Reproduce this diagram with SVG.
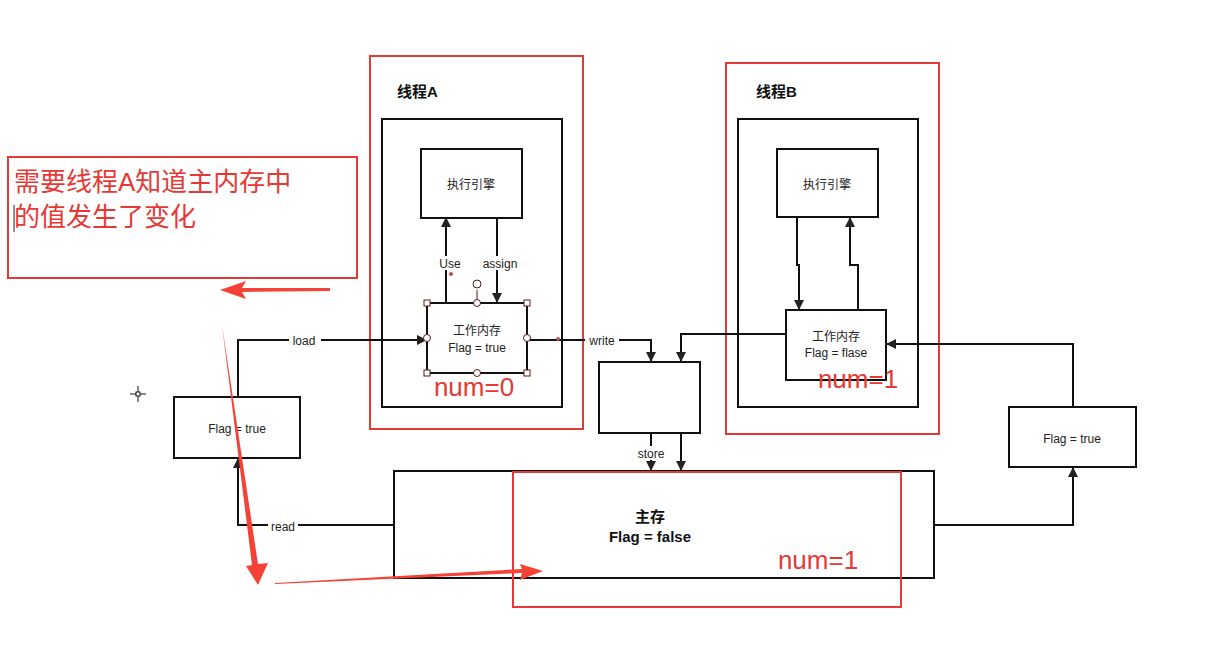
<svg xmlns="http://www.w3.org/2000/svg" width="1205" height="651" viewBox="0 0 1205 651">
<defs>
<marker id="a" markerWidth="10" markerHeight="10" refX="9" refY="5" orient="auto" markerUnits="userSpaceOnUse"><path d="M0,0 L10,5 L0,10 Z" fill="#222"/></marker>
<style>
.b{fill:#fff;stroke:#111;stroke-width:2}
.r{fill:none;stroke:#e53935;stroke-width:2}
.l{fill:none;stroke:#111;stroke-width:2;marker-end:url(#a)}
.t{font-family:"Liberation Sans","Noto Sans CJK SC",sans-serif;font-size:12px;fill:#222}
.bt{font-family:"Liberation Sans","Noto Sans CJK SC",sans-serif;font-size:15px;font-weight:bold;fill:#111}
.n{font-family:"Liberation Sans",sans-serif;font-size:26px;fill:#e53935}
.h{fill:#fff;stroke:#5a1a1a;stroke-width:1}
</style>
</defs>
<rect width="1205" height="651" fill="#fff"/>
<g id="threadA"><rect x="370" y="56" width="213" height="373" class="r"/><text x="397" y="97" class="bt">线程A</text><rect x="382" y="119" width="180" height="288" class="b"/></g>
<g id="threadB"><rect x="726" y="63" width="213" height="371" class="r"/><text x="756" y="97" class="bt">线程B</text><rect x="738" y="119" width="180" height="288" class="b"/></g>
<g id="connectors">
<path class="l" d="M238,397 V340 H426"/>
<path class="l" d="M394,525 H238 V459"/>
<path class="l" d="M527,340 H651 V361"/>
<path class="l" d="M651,433 V470"/>
<path class="l" d="M681,433 V470"/>
<path class="l" d="M786,334 H681 V361"/>
<path class="l" d="M1073,407 V344 H887"/>
<path class="l" d="M934,525 H1073 V468"/>
<path class="l" d="M446,303 V218"/>
<path class="l" d="M497,218 V302"/>
<path class="l" d="M797,218 V265 H799 V309"/>
<path class="l" d="M858,310 V265 H850 V218"/>
</g>
<g id="engineA"><rect x="421" y="149" width="101" height="69" class="b"/><text x="471" y="189" class="t" text-anchor="middle">执行引擎</text></g>
<g id="engineB"><rect x="777" y="149" width="101" height="68" class="b"/><text x="827" y="189" class="t" text-anchor="middle">执行引擎</text></g>
<g id="memA"><rect x="427" y="303" width="100" height="70" class="b"/><text x="477" y="335" class="t" text-anchor="middle">工作内存</text><text x="477" y="352" class="t" text-anchor="middle">Flag = true</text>
<line x1="477" y1="303" x2="477" y2="290" stroke="#5a1a1a"/>
<rect x="424" y="300" width="6" height="6" class="h"/><rect x="524" y="300" width="6" height="6" class="h"/><rect x="424" y="370" width="6" height="6" class="h"/><rect x="524" y="370" width="6" height="6" class="h"/>
<circle cx="477" cy="303" r="3.5" class="h"/><circle cx="477" cy="373" r="3.5" class="h"/><circle cx="427" cy="338" r="3.5" class="h"/><circle cx="527" cy="338" r="3.5" class="h"/><circle cx="477" cy="284" r="4" class="h"/>
<circle cx="451" cy="274" r="2" fill="#c05050"/><circle cx="558" cy="339" r="2" fill="#c05050"/>
<text x="474" y="396" class="n" text-anchor="middle">num=0</text></g>
<g id="memB"><rect x="786" y="310" width="100" height="70" class="b"/><text x="836" y="341" class="t" text-anchor="middle">工作内存</text><text x="836" y="357" class="t" text-anchor="middle">Flag = flase</text><text x="858" y="388" class="n" text-anchor="middle">num=1</text></g>
<g id="buf"><rect x="599" y="362" width="101" height="71" class="b"/></g>
<g id="left"><rect x="174" y="397" width="126" height="61" class="b"/><text x="237" y="433" class="t" text-anchor="middle">Flag = true</text></g>
<g id="right"><rect x="1009" y="407" width="127" height="60" class="b"/><text x="1072" y="443" class="t" text-anchor="middle">Flag = true</text></g>
<g id="main"><rect x="394" y="471" width="540" height="107" class="b"/><text x="650" y="522" class="bt" text-anchor="middle">主存</text><text x="650" y="542" class="bt" text-anchor="middle">Flag = false</text>
<rect x="513" y="472" width="388" height="135" class="r"/><text x="818" y="569" class="n" text-anchor="middle">num=1</text></g>
<g id="labels">
<rect x="289" y="333" width="32" height="14" fill="#fff"/><text x="304" y="345" class="t" text-anchor="middle">load</text>
<rect x="268" y="519" width="30" height="14" fill="#fff"/><text x="283" y="531" class="t" text-anchor="middle">read</text>
<rect x="585" y="333" width="34" height="14" fill="#fff"/><text x="602" y="345" class="t" text-anchor="middle">write</text>
<rect x="634" y="446" width="34" height="14" fill="#fff"/><text x="651" y="458" class="t" text-anchor="middle">store</text>
<rect x="436" y="256" width="28" height="14" fill="#fff"/><text x="450" y="268" class="t" text-anchor="middle">Use</text>
<rect x="480" y="256" width="40" height="14" fill="#fff"/><text x="500" y="268" class="t" text-anchor="middle">assign</text>
</g>
<g id="note"><rect x="8" y="157" width="349" height="121" class="r"/><text x="14" y="191" font-family="Liberation Sans,Noto Sans CJK SC,sans-serif" font-size="26" fill="#e53935">需要线程A知道主内存中</text><text x="14" y="226" font-family="Liberation Sans,Noto Sans CJK SC,sans-serif" font-size="26" fill="#e53935">的值发生了变化</text><line x1="14" y1="205" x2="14" y2="232" stroke="#222"/></g>
<g id="redArrows" fill="#f44336">
<path d="M330,288 L242,288 L246,281 L220,290 L246,299 L242,292 L330,291 Z"/>
<path d="M222,325 L252,565 L246,566 L258,585 L268,563 L258,564 Z"/>
<path d="M275,584 L522,573 L520,580 L543,571 L520,564 L522,569 L275,583 Z"/>
</g>
<g id="cursor" stroke="#111" fill="none"><line x1="138" y1="386" x2="138" y2="402"/><line x1="130" y1="394" x2="146" y2="394"/><rect x="136" y="392" width="4" height="4" fill="#fff"/></g>
</svg>
